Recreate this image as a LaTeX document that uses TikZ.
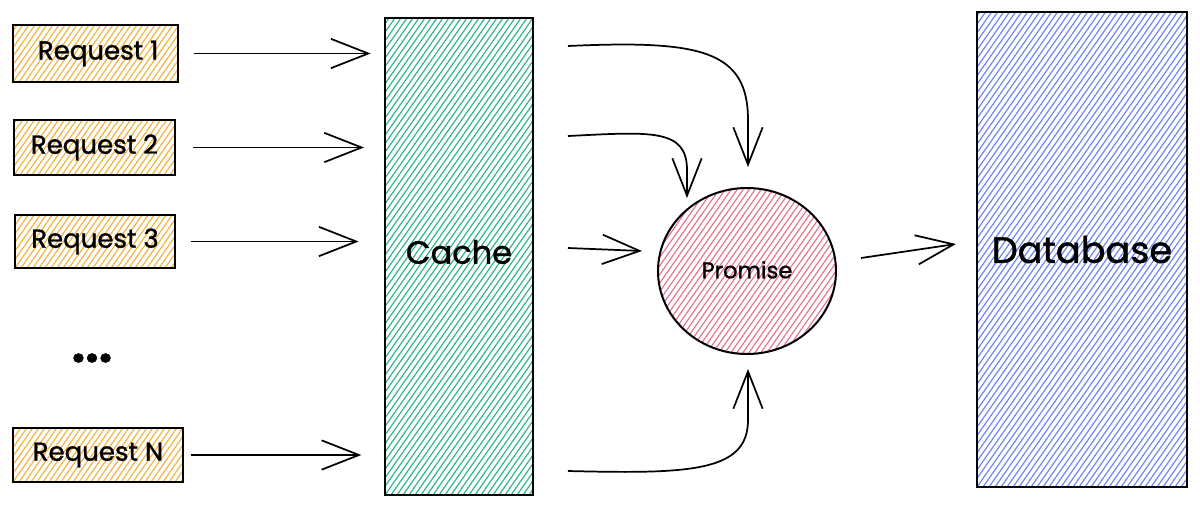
\documentclass[tikz,border=0pt]{standalone}
\usepackage{fontspec}
\setmainfont{Poppins}[FakeBold=1.2]
\usetikzlibrary{arrows.meta,shapes.geometric,calc}
\definecolor{reqhatch}{HTML}{F2B33D}
\definecolor{cachehatch}{HTML}{2DB38A}
\definecolor{promhatch}{HTML}{E5728F}
\definecolor{dbhatch}{HTML}{6A83F0}
\tikzset{
  hatch/.style={path picture={
    \foreach \k in {-110,...,60}{
      \draw[#1, line width=0.85pt] ([xshift=\k*4.5pt]path picture bounding box.south west) -- ++(55:900pt);
    }}},
  outline/.style={draw=black, line width=1.5pt},
  reqbox/.style={outline, hatch=reqhatch, rectangle, inner sep=0pt, font=\fontsize{19.5}{22}\selectfont},
  bigbox/.style={outline, rectangle, inner sep=0pt},
  conn/.style={line width=1.3pt, -{Straight Barb[length=28pt,width=22pt,line width=1.3pt]}},
}
\begin{document}
\begin{tikzpicture}[x=0.75pt,y=-0.75pt]
\useasboundingbox[fill=white] (0,0) rectangle (1200,508);

% request boxes
\node[reqbox, minimum width=123.75pt, minimum height=42.75pt] (r1) at (95.5,53.5) {\hspace*{4pt}Request 1};
\node[reqbox, minimum width=120.75pt, minimum height=41.25pt] (r2) at (94.5,147.5) {Request 2};
\node[reqbox, minimum width=120pt, minimum height=39.75pt] (r3) at (95,241.5) {Request 3};
\node[reqbox, minimum width=127.5pt, minimum height=40.5pt] (rN) at (98,455) {Request N};
\node[font=\fontsize{36}{36}\selectfont\bfseries] (dots) at (92,358) {...};

% cache
\node[bigbox, hatch=cachehatch, minimum width=111pt, minimum height=357.75pt,
      font=\fontsize{24}{30}\selectfont] (cache) at (459,256.5) {\raisebox{7pt}{Cache}};

% promise
\node[ellipse, outline, hatch=promhatch, inner sep=0pt, minimum width=133.5pt, minimum height=124.5pt,
      font=\fontsize{17}{20}\selectfont] (promise) at (747,271) {\raisebox{2pt}{Promise}};

% database
\node[bigbox, hatch=dbhatch, minimum width=157.5pt, minimum height=356.25pt,
      font=\fontsize{27.5}{34}\selectfont] (db) at (1082,249.5) {Database};

% request arrows
\draw[conn, shorten <=11pt, shorten >=10pt] (r1.east) -- (cache.west |- r1.east);
\draw[conn, shorten <=13pt, shorten >=15pt] (r2.east) -- (cache.west |- r2.east);
\draw[conn, shorten <=11pt, shorten >=19pt] (r3.east) -- (cache.west |- r3.east);
\draw[conn, shorten <=5pt, shorten >=17pt] (rN.east) -- (cache.west |- rN.east);

% cache to promise
\coordinate (c1s) at ($(cache.north east)+(34,29)$);
\coordinate (c1e) at ($(promise.north)+(1,-20)$);
\draw[conn] (c1s) .. controls (700,40) and (748,50) .. (748,120) -- (c1e);

\coordinate (c2s) at ($(cache.north east)+(34,119)$);
\coordinate (c2e) at ($(promise.center)+(-60,-73)$);
\draw[conn] (c2s) .. controls (650,132) and (687,128) .. (687,170) -- (c2e);

\coordinate (c3s) at ($(cache.east)+(34,-8.5)$);
\coordinate (c3e) at ($(promise.west)+(-15,-20)$);
\draw[conn] (c3s) -- (c3e);

\coordinate (c4s) at ($(cache.south east)+(34,-25)$);
\coordinate (c4e) at ($(promise.south)+(1,14)$);
\draw[conn] (c4s) .. controls (690,474) and (748,472) .. (748,420) -- (c4e);

% promise to database
\coordinate (c5s) at ($(promise.east)+(24,-13)$);
\coordinate (c5e) at ($(db.west)+(-20,-5.5)$);
\draw[conn] (c5s) -- (c5e);
\end{tikzpicture}
\end{document}
